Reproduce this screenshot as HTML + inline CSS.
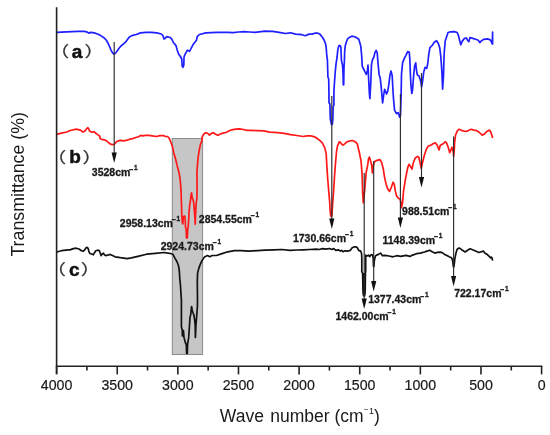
<!DOCTYPE html>
<html><head><meta charset="utf-8"><style>
html,body{margin:0;padding:0;background:#fff;width:550px;height:435px;overflow:hidden}
svg{display:block}
.tick text{font-family:"Liberation Sans",Arial,sans-serif;font-size:14.2px;fill:#1a1a1a;text-anchor:middle;stroke:#1a1a1a;stroke-width:0.2px}
.ann text{font-family:"Liberation Sans",Arial,sans-serif;font-size:10.5px;font-weight:bold;fill:#1a1a1a;stroke:#1a1a1a;stroke-width:0.3px}
.ann .sup{font-size:7px}
.ann .sup1{font-size:6.5px}
.par text{font-family:"Liberation Sans","Noto Sans CJK SC",sans-serif;font-size:15px;fill:#333;stroke:#333;stroke-width:0.25px}
.lt text{font-family:"Liberation Sans",Arial,sans-serif;font-size:19px;font-weight:bold;fill:#111;stroke:#111;stroke-width:0.5px}
.ttl,.ttl text{font-family:"Liberation Sans",Arial,sans-serif;font-size:17.5px;fill:#1a1a1a}
</style></head><body>
<svg width="550" height="435" viewBox="0 0 550 435">
<rect x="0" y="0" width="550" height="435" fill="#fff"/>
<rect x="172.3" y="138.5" width="30.3" height="216" fill="#c6c6c6" stroke="#8a8a8a" stroke-width="1"/>
<polyline fill="none" stroke="#1f1fff" stroke-width="1.7" stroke-linejoin="round" points="56.7,32.4 66.9,31.8 77.8,31.3 84.4,31.3 86.5,31.8 88.7,33.1 90.9,32.4 94.2,32.9 97.5,34 100.7,35.6 104,37.8 106.2,40 107.8,42.7 109.5,46.5 111.1,50.4 112.7,53 114.4,54.2 116.5,52 118.7,48.7 120.9,46 123.6,43.8 126.4,41.1 129.1,37.3 131.8,35.6 136.2,34.5 140.5,32.9 146,32.4 151.5,32.4 156.9,32.9 161.3,34 162.9,35.6 164,38.9 165.1,38.4 166.7,36.7 170.3,37.5 171.9,39.4 173.4,42.5 176,45.6 177.1,49.7 178.6,53.9 180.7,57 181.7,59 182.2,66.3 183,67.3 183.8,65.2 184,57 185.3,53.9 187.4,50.2 189.5,51.3 191,48.7 193.1,44.6 195.7,41.2 196.6,40 197.2,36.7 199.4,34.5 205.9,32.9 211.4,32.6 216.8,32.4 227.7,32.4 233.2,32.6 238.6,32 244.1,31.6 249.5,32 255,32.4 265.1,31.2 272.7,31.3 279.1,32.4 285.5,33.5 290.5,32.8 295.6,34.1 302,34.7 305.2,35.7 309,34.1 312.2,34.1 314.7,33.2 317.9,33.2 319.8,34.1 322.4,37.3 324.3,40.5 325.5,43.6 326.2,47.5 326.8,56 327.4,60 327.9,77 328.7,79 328.9,90 329,102.7 329.9,104 330.3,119 331.5,124.5 332.3,124.5 332.9,119 333.1,107 333.9,105 333.9,91 334.5,82.3 335.2,72.2 336.1,63.3 337.1,57 337.7,50.7 338.3,47.5 339,45.6 340.2,45.6 340.9,47.5 341.1,53.2 341.5,60.8 342.4,64.6 342.8,68.4 343.1,76 343.3,84.8 343.7,84.8 344,67.1 344.4,60.8 344.7,50.7 345.3,45.6 346.6,41.2 347.8,38.6 348.8,37.8 351.9,36.2 355.4,37 358.8,39.3 360.7,45.7 361.6,54.9 362.3,66.4 364.6,71 366.2,74.4 367.4,71 368,65.2 368.7,80.2 369.4,94 369.9,98.6 370.8,82.5 371.5,64.1 372.6,59.5 373.8,57.2 374.9,52.6 376.1,50.3 377.2,52.6 377.9,61.8 379.1,74.4 380.2,77.9 381.2,87.1 381.9,95 382.6,102.8 383.7,95 384.6,89.4 385.6,91.7 386.5,94 387.6,91.7 388.8,84.8 389.9,75.6 391,71 392.2,75.6 392.8,87.2 393.5,98.7 394.6,110.3 396.5,113.7 398.1,112.6 399.7,117.2 400.5,115.3 401.1,95.7 401.5,73.9 402.6,62.9 404.2,58.6 405.9,55.3 407.7,51.6 409.2,52 409.8,58.6 410.3,71.7 410.9,84.8 411.8,93.5 412.5,90.2 413.6,76 414.6,66.2 415.7,62.9 416.4,69.5 417.3,74.9 419,76 420.8,81.5 421.6,86.9 422.7,80.4 423.8,71.7 425.1,67.3 426.7,68.4 427.7,64 428.8,54.2 429.9,47.6 432.1,45.5 434.3,42.2 436.5,40.7 438.2,43.3 439.7,47.6 440.8,56.4 441.9,71.7 442.6,89.1 443.5,76 444.1,54.2 445.2,41.1 447.4,34.5 448,32.5 450.7,31.8 454.4,31.6 457.2,32.5 458.5,35.6 459.6,40.2 460.8,44.8 462.3,41.1 464.5,38.4 466.4,38 467.6,40.2 468.8,41.7 470,37.5 472.8,38.4 475.6,39.3 478.3,40.2 479.8,42.6 481.1,41.1 483.8,39.3 487.5,38.9 490.3,39.9 491.5,42.2 492.3,44 492.6,32 492.6,44.6"/>
<polyline fill="none" stroke="#ff1818" stroke-width="1.7" stroke-linejoin="round" points="56.7,134.4 61.5,133.1 66.9,132 70.2,130.5 76.2,129.2 80.5,130.2 82.7,132 84.9,131.1 86.5,128.9 87.9,127.6 88.7,128.9 89.8,131.3 92,132.2 94,131.6 95.8,133.3 98,134.9 99.6,136 100.2,138.7 101.8,139.3 104.5,139.8 106.7,140.9 108.4,142.5 110.5,144.2 112.7,144.7 114.4,144.2 116.2,141.9 118.4,140.8 120.5,140.3 123.8,140.8 127.1,140.1 129.8,139.2 132.5,138.6 135.8,137.5 138.5,136.8 140.7,135.4 142.9,135.9 145.1,135.4 148.9,135.4 152.2,135.9 156.5,136.5 159.8,135.7 163.6,135.6 165.3,136.5 167.5,136.5 169.1,138.1 170.5,141.3 172.4,146.4 173.7,152.7 175.6,159 177.1,165.4 178.8,171.7 180,178 180.7,185.6 181.1,192.9 181.5,204.7 181.8,215.1 182.3,222 182.8,224 183.3,217 184.4,215.8 185.1,217.8 185.5,227 186.2,229.6 186.5,238 187.3,238 187.7,229.6 188.3,225.6 189,213.8 189.7,204.7 190.3,202 191,195.5 191.6,192.9 192.3,198.1 192.9,199.4 193.6,202 194.2,208.6 194.9,217.8 195.2,224.3 195.7,211.2 196.2,203.3 196.9,198.1 197.1,185 196.9,173 197.4,165.4 198.1,157.8 199,151.5 200.3,145 202.2,140 201.9,137.8 203.8,134 205.7,132.7 207.6,133.4 209.5,135 211.5,133.4 213.4,132.7 215.3,134 217.8,135.3 220.4,134 222.9,133.1 226.1,132.5 229.3,130.8 231.8,129.8 235.6,129.2 239.5,128.9 243.3,129.5 247.1,130.4 250.9,130.4 257.3,130.6 263.6,130.8 270,132.1 277.7,132.7 284.1,133.4 290.5,134.6 296.8,135.5 303.2,136.5 307,135.9 310.8,135.9 314.6,136.8 317.2,138.5 319.7,140.4 322.3,142.9 324.8,147.8 326.2,153.6 326.8,165.3 327.7,179 328.7,190.7 329.7,202.4 330.1,210.2 330.7,216 331.5,216.5 332,214 332.6,204.3 333.6,190.7 334.6,175.1 335.5,163.4 336.5,151.7 337.5,145.8 338.5,143.9 339.1,141.9 340.4,142.4 341.8,144.2 343.2,145.1 345,143.7 346.9,141.9 349.6,141 351.9,140.5 353.8,141 356.1,142.4 357.4,144.2 358.1,147 358.8,150.6 359.6,153.4 360.2,157.1 360.9,159.8 361.4,165.3 361.9,171.8 362.3,180 362.6,192 363.3,202.8 364,196 364.8,189.1 366.1,173 367.8,164.4 368.5,158.9 369.4,157.1 370,158.9 370.8,161.7 371.7,165.3 372.4,173 373.1,166.1 374.7,161.5 377,160.3 380,159.6 381.6,162.6 383.2,168.4 384.6,177.6 386.2,184.5 387.8,189.1 389.6,191.4 391.5,186.8 393.1,182.2 394.3,184.5 395.4,191.4 396.6,196 398.4,198.3 400.3,199.3 401.5,207.6 402.5,203 403.5,191.4 405.3,180 406.5,173.8 407.8,167.4 409,164.3 410.5,166.5 412,169.2 413.3,162.8 415.1,158.2 417.5,156.4 418.8,157.3 420.1,162.8 421.2,168.3 422.5,162.8 424.3,155.4 426.1,149.9 428,146.3 430.7,145.3 433.5,143.5 435.3,142.9 437.2,145.3 439,149.9 440.3,145.3 441.8,144.4 443.6,143.5 445.1,141.7 446.4,142.6 448.2,147.2 449.7,152.7 451,149.9 451.9,147.2 453.2,151.5 453.7,156.3 454.4,148 454.6,142.6 455.5,135.2 457.4,130.6 459.2,129.3 462,130.6 465.7,131.5 468.4,130.6 471.2,129.3 473.9,130.1 476.7,130.6 479.4,132.5 482.2,135.2 484,134.3 486.8,131.5 489.6,130.1 491,132.5 492.7,138"/>
<polyline fill="none" stroke="#111" stroke-width="1.7" stroke-linejoin="round" points="56.7,252 61.5,250.7 68.1,249.8 70,249.9 73.3,248.6 76.1,248.2 79,249 81.5,250.7 83.1,251.3 84.7,249.9 86,247.7 87.2,247.4 88.2,248.6 89,251.9 90,253.5 91.7,254 93.3,254.8 94.5,252.7 95.8,250.7 97.4,250.3 99.1,250.3 99.9,252.3 101.1,255.6 102.3,254 103.4,253.1 104.4,254.8 105.6,255.6 107.6,255.2 110.1,254.4 112.6,255.6 115,256.8 120.5,257.7 127,258.6 131.4,257.9 137.9,256.4 146.6,254.2 155.4,253.3 164.1,252.5 169.6,253.3 172.8,254.2 175.2,258.6 176.9,261.5 178.3,265 179,268.4 179.4,271.9 179.8,278.8 180.4,284.5 180.9,292.6 181.4,300 181.4,326.7 182.2,330 182.4,336 183,333 183.4,330.7 184,337.4 185.4,342.7 186.3,344.8 186.6,353.5 187.3,353.5 187.6,344.1 188.7,337.4 189.4,326.7 190,317.4 190.7,314.7 191.4,308 191.6,306.7 192.3,310.7 193,312.7 193.8,314.7 194.7,320 195.2,326 195.4,337.4 195.9,326 196.7,316 197.4,306.7 197.5,300 197.3,281 197.6,273 198.8,268.4 200.5,263.8 202.2,260.4 204.5,256.9 207.4,255.5 209.8,256.7 212.3,255.5 216.4,255.5 221.3,253.9 227.8,251.8 234.4,250.6 240.9,250.6 249.1,251.1 257.3,250.6 265.5,250.1 273.6,249.8 281.8,249.5 290,250.4 296.5,250 303.1,249.8 309.6,249.5 316.2,249.1 319,249.5 322.7,248.7 326,249.2 329.3,248.5 331.9,249.5 333.8,248.5 335.8,250.4 338.4,249.8 340.4,251.1 341.7,250.4 343,251.7 345,250.8 347.6,251.1 350.2,250.4 352.2,247.8 354.1,246.9 356.1,246.9 357.4,247.8 358.7,250.4 360.7,251.1 361.6,253.8 361.8,258 361.8,271.7 362.6,273.5 363.0,290 363.6,296 364.6,296 365.2,290 365.4,273.5 365.7,271 365.7,255.2 367.1,255.9 368.4,255.2 369.8,256.6 370.5,255.2 371.9,254.5 372.6,255.2 373.2,258 373.5,266.5 373.9,266.5 374.3,260.7 375.3,256.2 376.6,255.1 378.5,254.4 380.5,253.1 382.5,255.7 385.1,255.4 389,256 392.9,256.8 396.9,255.7 400.8,256.4 406,255.4 410,256.4 412.6,255.1 416.5,253.7 420.4,253.1 424.4,252 427,251.1 429.6,250.2 432.2,251.8 434.8,253.1 437.4,252.4 440,252.1 442.3,252.6 444.6,254.4 446.9,255.5 449.2,256.7 451.5,257.8 452.4,259.5 452.9,263 453.4,266.8 453.9,266.8 454.4,263 454.9,258.4 456.1,252.6 457.2,249.2 459,248 460,248.3 462.5,250.3 465.1,252 467.6,250.3 470.1,248.8 473.8,250.2 478.9,252.5 483.4,251.1 484.8,253 487.6,254.8 489.4,256.6 490.8,258 491.3,257.1 492.2,258.4 492.6,260.7"/>
<line x1="364.1" y1="273" x2="364.1" y2="294.5" stroke="#111" stroke-width="3"/>
<g stroke="#2a2a2a" stroke-width="1.15"><line x1="114.2" y1="42" x2="114.2" y2="155"/><path class="ah" fill="#111" stroke="none" d="M111.60000000000001,152.5 L116.8,152.5 L114.2,163 Z"/><line x1="331.8" y1="96" x2="331.8" y2="221"/><path class="ah" fill="#111" stroke="none" d="M329.2,218.5 L334.40000000000003,218.5 L331.8,229 Z"/><line x1="400.4" y1="94" x2="400.4" y2="220"/><path class="ah" fill="#111" stroke="none" d="M397.79999999999995,217.5 L403.0,217.5 L400.4,228 Z"/><line x1="421.5" y1="73" x2="421.5" y2="179.6"/><path class="ah" fill="#111" stroke="none" d="M418.9,177.1 L424.1,177.1 L421.5,187.6 Z"/><line x1="364.2" y1="173" x2="364.2" y2="301"/><path class="ah" fill="#111" stroke="none" d="M361.59999999999997,298.5 L366.8,298.5 L364.2,309 Z"/><line x1="373.7" y1="161" x2="373.7" y2="283.5"/><path class="ah" fill="#111" stroke="none" d="M371.09999999999997,281.0 L376.3,281.0 L373.7,291.5 Z"/><line x1="453.6" y1="136.5" x2="453.6" y2="278.5"/><path class="ah" fill="#111" stroke="none" d="M451.0,276.0 L456.20000000000005,276.0 L453.6,286.5 Z"/></g>
<g class="ah-g"></g>
<g stroke="#222" stroke-width="1.6" fill="none">
<line x1="56.6" y1="7.3" x2="56.6" y2="374"/>
<line x1="55.8" y1="366.3" x2="542.4" y2="366.3"/>
</g>
<g class="tick" stroke="#222" stroke-width="1.6"><line x1="541.60" y1="366.3" x2="541.60" y2="374.4"/><line x1="511.29" y1="366.3" x2="511.29" y2="370.5"/><line x1="480.98" y1="366.3" x2="480.98" y2="374.4"/><line x1="450.66" y1="366.3" x2="450.66" y2="370.5"/><line x1="420.35" y1="366.3" x2="420.35" y2="374.4"/><line x1="390.04" y1="366.3" x2="390.04" y2="370.5"/><line x1="359.73" y1="366.3" x2="359.73" y2="374.4"/><line x1="329.41" y1="366.3" x2="329.41" y2="370.5"/><line x1="299.10" y1="366.3" x2="299.10" y2="374.4"/><line x1="268.79" y1="366.3" x2="268.79" y2="370.5"/><line x1="238.48" y1="366.3" x2="238.48" y2="374.4"/><line x1="208.16" y1="366.3" x2="208.16" y2="370.5"/><line x1="177.85" y1="366.3" x2="177.85" y2="374.4"/><line x1="147.54" y1="366.3" x2="147.54" y2="370.5"/><line x1="117.23" y1="366.3" x2="117.23" y2="374.4"/><line x1="86.91" y1="366.3" x2="86.91" y2="370.5"/><line x1="56.60" y1="366.3" x2="56.60" y2="374.4"/></g>
<g class="tick"><text x="541.60" y="390">0</text><text x="480.98" y="390">500</text><text x="420.35" y="390">1000</text><text x="359.73" y="390">1500</text><text x="299.10" y="390">2000</text><text x="238.48" y="390">2500</text><text x="177.85" y="390">3000</text><text x="117.23" y="390">3500</text><text x="56.60" y="390">4000</text></g>
<g class="ann"><text x="91.8" y="176.3">3528cm<tspan class="sup" dx="-1.4" dy="-4.8">−</tspan><tspan class="sup1" dx="0.9" dy="-1.3">1</tspan></text><text x="119.8" y="226.6">2958.13cm<tspan class="sup" dx="-1.4" dy="-4.8">−</tspan><tspan class="sup1" dx="0.9" dy="-1.3">1</tspan></text><text x="198.8" y="222.8">2854.55cm<tspan class="sup" dx="-1.4" dy="-4.8">−</tspan><tspan class="sup1" dx="0.9" dy="-1.3">1</tspan></text><text x="160.7" y="250.2">2924.73cm<tspan class="sup" dx="-1.4" dy="-4.8">−</tspan><tspan class="sup1" dx="0.9" dy="-1.3">1</tspan></text><text x="292.9" y="241.8">1730.66cm<tspan class="sup" dx="-1.4" dy="-4.8">−</tspan><tspan class="sup1" dx="0.9" dy="-1.3">1</tspan></text><text x="402.1" y="214.9">988.51cm<tspan class="sup" dx="-1.4" dy="-4.8">−</tspan><tspan class="sup1" dx="0.9" dy="-1.3">1</tspan></text><text x="382.5" y="243.9">1148.39cm<tspan class="sup" dx="-1.4" dy="-4.8">−</tspan><tspan class="sup1" dx="0.9" dy="-1.3">1</tspan></text><text x="368.2" y="303.3">1377.43cm<tspan class="sup" dx="-1.4" dy="-4.8">−</tspan><tspan class="sup1" dx="0.9" dy="-1.3">1</tspan></text><text x="335.5" y="319.6">1462.00cm<tspan class="sup" dx="-1.4" dy="-4.8">−</tspan><tspan class="sup1" dx="0.9" dy="-1.3">1</tspan></text><text x="454.2" y="296.8">722.17cm<tspan class="sup" dx="-1.4" dy="-4.8">−</tspan><tspan class="sup1" dx="0.9" dy="-1.3">1</tspan></text></g>
<g class="par">
<text transform="translate(49.7,56.8) scale(1.3,1)">（</text><text transform="translate(84.5,56.8) scale(1.3,1)">）</text>
<text transform="translate(46.7,162.6) scale(1.3,1)">（</text><text transform="translate(82.5,162.6) scale(1.3,1)">）</text>
<text transform="translate(46.4,274.9) scale(1.3,1)">（</text><text transform="translate(80.8,274.9) scale(1.3,1)">）</text>
</g>
<g class="lt">
<text x="71.8" y="57.5">a</text>
<text x="69.3" y="163.3">b</text>
<text x="69.1" y="275.6">c</text>
</g>
<g class="ttl">
<text x="219.8" y="421.8">Wave</text>
<text x="270.2" y="421.8">number</text>
<text x="334.5" y="421.8">(cm</text>
<text x="364.1" y="412.4" style="font-size:8px">−</text>
<text x="369.1" y="414.2" style="font-size:9px">1</text>
<text x="374.0" y="421.8">)</text>
</g>
<text class="ttl" transform="translate(23.8,256.6) rotate(-90)" x="0" y="0" style="font-size:17.8px">Transmittance (%)</text>
</svg>
</body></html>
